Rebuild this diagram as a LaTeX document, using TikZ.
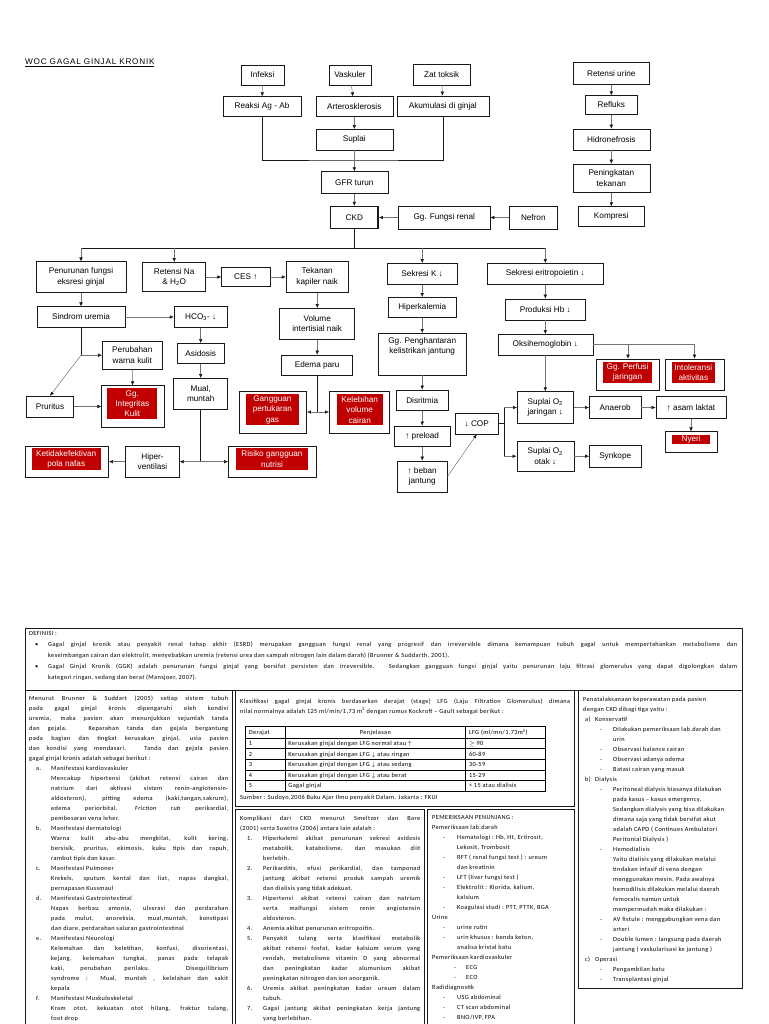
\documentclass[tikz,border=0pt]{standalone}
\usepackage{fontspec}
\setmainfont{Liberation Sans}
\newfontfamily\notefont[LetterSpace=6]{Carlito}
\newfontfamily\titlefont[LetterSpace=9]{Liberation Sans}
\usepackage{array}
\usetikzlibrary{arrows.meta,positioning,calc}
\definecolor{ink}{RGB}{25,25,25}
\definecolor{nanda}{RGB}{192,0,0}
\newcommand{\flowfont}{\fontsize{8.2}{10.4}\selectfont}
\newcommand{\notesize}{\notefont\fontsize{6.3}{10}\selectfont\parindent=0pt\tolerance=10000\pretolerance=-1\hbadness=10000\linepenalty=1000\hyphenpenalty=10000}
% list lines: label at #1, text at #2
\newcommand{\lsitem}[3]{\par\leftskip=#2\relax\noindent\llap{\makebox[\dimexpr#2-#1\relax][l]{#3}}\ignorespaces}
\newcommand{\lsplain}[1]{\par\leftskip=#1\relax\noindent\ignorespaces}

\begin{document}
\begin{tikzpicture}[x=1pt,y=-1pt,
  box/.style={rectangle,draw=ink,line width=0.6pt,fill=white,font=\flowfont,align=center,inner sep=1pt},
  redbox/.style={rectangle,fill=nanda,text=white,font=\flowfont,align=center,inner sep=0.5pt},
  sz/.style 2 args={minimum width=#1pt,minimum height=#2pt},
  arrow/.style={-{Latex[length=4pt,width=3.6pt,color=ink]},draw=black!55,line width=0.5pt},
  bus/.style={draw=ink,line width=0.6pt},
  panel/.style={rectangle,draw=ink,line width=0.8pt,anchor=north west,inner sep=0pt},
  note/.style={anchor=north west,inner sep=0pt,align=justify,font=\notesize}
]
\useasboundingbox (0,0) rectangle (768,1024);
\clip (0,0) rectangle (768,1024);

\node[anchor=west,inner sep=0pt,font=\titlefont\fontsize{8.2}{10}\selectfont] (judul) at (25,62.7) {\underline{WOC GAGAL GINJAL KRONIK}};

% penyebab
\node[box,sz={43}{20}] (infeksi) at (262.5,75) {Infeksi};
\node[box,sz={42}{20}] (vaskuler) at (350,75) {Vaskuler};
\node[box,sz={57}{21}] (zat) at (441.7,74.5) {Zat toksik};
\node[box,sz={76}{21.6}] (urine) at (611.3,73.5) {Retensi urine};
\node[box,sz={78}{20}] (reaksi) at (262,106.7) {Reaksi Ag - Ab};
\node[box,sz={77}{20}] (arterio) at (354.3,106.7) {Arterosklerosis};
\node[box,sz={92}{20.7}] (akum) at (442.8,106.3) {Akumulasi di ginjal};
\node[box,sz={52}{18.6}] (refluks) at (611.3,105) {Refluks};
\node[box,sz={77}{20.7}] (suplai) at (354.3,139.7) {Suplai};
\node[box,sz={77}{21}] (hidro) at (611.3,139.5) {Hidronefrosis};
\node[box,sz={67}{21.7}] (gfr) at (354.3,182.5) {GFR turun};
\node[box,sz={77}{28.3}] (tekanan) at (611.3,178.2) {Peningkatan\\tekanan};
\node[box,sz={47.7}{21.7},line width=1.6pt] (ckd) at (354.3,217.5) {CKD};
\node[box,sz={91.7}{23}] (fungsi) at (444.2,217.5) {Gg. Fungsi renal};
\node[box,sz={48}{22.7}] (nefron) at (533.3,217.5) {Nefron};
\node[box,sz={66}{20}] (kompresi) at (611.3,216.7) {Kompresi};

% akibat
\node[box,sz={90}{30.6}] (penurunan) at (81,277) {Penurunan fungsi\\eksresi ginjal};
\node[box,sz={63}{29.4}] (retna) at (174.2,277) {Retensi Na\\\& H\textsubscript{2}O};
\node[box,sz={48.3}{19.3}] (ces) at (245.8,277) {CES ↑};
\node[box,sz={62.3}{31}] (kapiler) at (317.2,277) {Tekanan\\kapiler naik};
\node[box,sz={69.3}{21}] (sekk) at (422.2,273.8) {Sekresi K ↓};
\node[box,sz={116}{21}] (eritro) at (545.3,273.8) {Sekresi eritropoietin ↓};
\node[box,sz={88.3}{20.6}] (sindrom) at (81,317) {Sindrom uremia};
\node[box,sz={53.3}{20.6}] (hco) at (200.7,317) {HCO\textsubscript{3}- ↓};
\node[box,sz={75}{31}] (volume) at (317.2,323.8) {Volume\\intertisial naik};
\node[box,sz={67.7}{20.4}] (hiperk) at (422.2,307.5) {Hiperkalemia};
\node[box,sz={79.3}{21}] (hb) at (545.3,309.5) {Produksi Hb ↓};
\node[box,sz={60}{28.3}] (perubahan) at (132.3,355.2) {Perubahan\\warna kulit};
\node[box,sz={47.6}{20}] (asidosis) at (200.7,353.3) {Asidosis};
\node[box,sz={71}{20}] (edema) at (317.2,365) {Edema paru};
\node[box,sz={87.7}{41.7}] (hantar) at (422.2,354.2) {Gg. Penghantaran\\kelistrikan jantung\\[7pt]\mbox{}};
\node[box,sz={95}{20.7}] (oksi) at (545.3,344.7) {Oksihemoglobin ↓};
\node[box,sz={62.7}{31.7}] (perfusi) at (628,374.8) {};
\node[redbox,sz={48.4}{21.6}] (perfusi-in) at (627.5,372.5) {Gg. Perfusi\\jaringan};
\node[box,sz={59}{31.7}] (intol) at (694.5,374.8) {};
\node[redbox,sz={43.3}{21.6}] (intol-in) at (693.3,372.5) {Intoleransi\\aktivitas};
\node[box,sz={46.6}{20.7}] (pruritus) at (50,406.5) {Pruritus};
\node[box,sz={62.3}{41.6}] (integ) at (132.8,406.5) {};
\node[redbox,sz={50}{30.7}] (integ-in) at (132.3,403.7) {Gg.\\Integritas\\Kulit};
\node[box,sz={54}{31}] (mual) at (200.7,393.8) {Mual,\\muntah};
\node[box,sz={67.7}{41.6}] (gas) at (272.8,412) {};
\node[redbox,sz={53.3}{31.3}] (gas-in) at (272.4,409.7) {Gangguan\\pertukaran\\gas};
\node[box,sz={60}{41.6}] (lebih) at (359.3,412) {};
\node[redbox,sz={46}{31}] (lebih-in) at (359.7,409.7) {Kelebihan\\volume\\cairan};
\node[box,sz={52.3}{20.7}] (disritmia) at (422.2,400.3) {Disritmia};
\node[box,sz={56}{31.6}] (jaringan) at (545.3,407.5) {Suplai O\textsubscript{2}\\jaringan ↓};
\node[box,sz={51.7}{21.6}] (anaerob) at (615.2,407.5) {Anaerob};
\node[box,sz={70}{21.6}] (laktat) at (691,407.5) {↑ asam laktat};
\node[box,sz={43.3}{20.7}] (cop) at (476.7,423.7) {↓ COP};
\node[box,sz={51.7}{20.6}] (nyeri) at (691,442) {};
\node[redbox,sz={37.7}{9}] (nyeri-in) at (691.2,439.5) {Nyeri};
\node[box,sz={55.7}{20.7}] (preload) at (422.2,436.3) {↑ preload};
\node[box,sz={57}{30.7}] (otak) at (545.3,456.2) {Suplai O\textsubscript{2}\\otak ↓};
\node[box,sz={51.7}{21.7}] (synkope) at (615.2,456.2) {Synkope};
\node[box,sz={50}{31}] (beban) at (422.2,476.5) {↑ beban\\jantung};
\node[box,sz={83.7}{31.3}] (ketidak) at (66.8,461.7) {};
\node[redbox,sz={69}{21.7}] (ketidak-in) at (66.2,459.2) {Ketidakefektivan\\pola nafas};
\node[box,sz={53.6}{31.3}] (hiper) at (152.5,461.7) {Hiper-\\ventilasi};
\node[box,sz={88.4}{31.3}] (risiko) at (272.5,461.7) {};
\node[redbox,sz={72.6}{21.7}] (risiko-in) at (272,459.2) {Risiko gangguan\\nutrisi};

% hubungan atas
\draw[arrow] (infeksi) -- (reaksi);
\draw[arrow] (vaskuler) -- (arterio);
\draw[arrow] (zat) -- (akum);
\draw[arrow] (arterio) -- (suplai);
\coordinate (gfrbus) at (354.3,160);
\draw[bus] (reaksi) |- (gfrbus) -| (akum);
\draw[arrow] (suplai) -- (gfr);
\draw[arrow] (gfr) -- (ckd);
\draw[arrow] (nefron) -- (fungsi);
\draw[arrow] (fungsi) -- (ckd);
\draw[arrow] (urine) -- (refluks);
\draw[arrow] (refluks) -- (hidro);
\draw[arrow] (hidro) -- (tekanan);
\draw[arrow] (tekanan) -- (kompresi);

% cabang CKD
\coordinate (ckdbus) at (354.3,248);
\draw[bus] (ckd) -- (ckdbus);
\draw[bus] (penurunan.north |- ckdbus) -- (eritro.north |- ckdbus);
\draw[arrow] (penurunan.north |- ckdbus) -- (penurunan);
\draw[arrow] (retna.north |- ckdbus) -- (retna);
\draw[arrow] (sekk.north |- ckdbus) -- (sekk);
\draw[arrow] (eritro.north |- ckdbus) -- (eritro);

\draw[arrow] (penurunan) -- (sindrom);
\draw[arrow] (sindrom) -- (hco);
\coordinate (uremjct) at (sindrom.south |- perubahan.west);
\draw[bus] (sindrom) -- (uremjct);
\draw[arrow] (uremjct) -- (perubahan);
\draw[arrow] (uremjct) -- (pruritus.north);
\draw[arrow] (perubahan) -- (integ);
\draw[arrow] (pruritus) -- (integ);
\draw[arrow] (hco) -- (asidosis);
\draw[arrow] (asidosis) -- (mual);
\coordinate (mualjct) at (mual.south |- hiper.east);
\draw[bus] (mual) -- (mualjct);
\draw[arrow] (mualjct) -- (hiper);
\draw[arrow] (mualjct) -- (risiko);
\draw[arrow] (hiper) -- (ketidak);

\draw[arrow] (retna) -- (ces);
\draw[arrow] (ces) -- (kapiler);
\draw[arrow] (kapiler) -- (volume);
\draw[arrow] (volume) -- (edema);
\coordinate (edemajct) at (edema.south |- gas.east);
\draw[bus] (edema) -- (edemajct);
\draw[arrow] (edemajct) -- (gas);
\draw[arrow] (edemajct) -- (lebih);

\draw[arrow] (sekk) -- (hiperk);
\draw[arrow] (hiperk) -- (hantar);
\draw[arrow] (hantar) -- (disritmia);
\draw[arrow] (disritmia) -- (preload);
\draw[arrow] (preload) -- (beban);
\draw[arrow] (beban.east) -- (cop.south);
\coordinate (copjct) at ($(cop.east)+(5.5,0)$);
\draw[bus] (cop) -- (copjct);
\draw[bus] (copjct |- jaringan.west) -- (copjct |- otak.west);
\draw[arrow] (copjct |- jaringan.west) -- (jaringan);
\draw[arrow] (copjct |- otak.west) -- (otak);

\draw[arrow] (eritro) -- (hb);
\draw[arrow] (hb) -- (oksi);
\draw[arrow] (oksi) -- (jaringan);
\draw[arrow] (oksi.east) -| (intol);
\draw[arrow] (oksi.east -| perfusi.north) -- (perfusi);
\draw[arrow] (jaringan) -- (anaerob);
\draw[arrow] (anaerob) -- (laktat);
\draw[arrow] (laktat) -- (nyeri);
\draw[arrow] (otak) -- (synkope);

% kotak teks bawah
\node[panel,minimum width=717pt,minimum height=62pt] (defbox) at (25,628) {};
\node[panel,minimum width=207pt,minimum height=345pt] (gejalabox) at (25,690) {};
\node[panel,minimum width=339pt,minimum height=116pt] (klasbox) at (235,690) {};
\node[panel,minimum width=189pt,minimum height=230pt] (komplbox) at (235,809) {};
\node[panel,minimum width=147pt,minimum height=230pt] (periksabox) at (427,809) {};
\node[panel,minimum width=164pt,minimum height=298pt] (penatabox) at (578,690) {};

\node[note,text width=708pt,font=\notesize\fontsize{6.3}{11}\selectfont] (definisi) at ([shift={(4,3)}]defbox.north west) {DEFINISI :
\lsitem{6pt}{19pt}{•}Gagal ginjal kronik atau penyakit renal tahap akhir (ESRD) merupakan gangguan fungsi renal yang progresif dan irreversible dimana kemampuan tubuh gagal untuk mempertahankan metabolisme dan\linebreak keseimbangan cairan dan elektrolit, menyebabkan uremia (retensi urea dan sampah nitrogen lain dalam darah) (Brunner \& Suddarth, 2001).
\lsitem{6pt}{19pt}{•}Gagal Ginjal Kronik (GGK) adalah penurunan fungsi ginjal yang bersifat persisten dan irreversible. Sedangkan gangguan fungsi ginjal yaitu penurunan laju filtrasi glomerulus yang dapat digolongkan dalam\linebreak kategori ringan, sedang dan berat (Mansjoer, 2007).\par};

\node[note,text width=199pt] (gejala) at ([shift={(4,6)}]gejalabox.north west) {Menurut Brunner \& Suddart (2005) setiap sistem tubuh\linebreak pada gagal ginjal kronis dipengaruhi oleh kondisi\linebreak uremia, maka pasien akan menunjukkan sejumlah tanda\linebreak dan gejala. Keparahan tanda dan gejala bergantung\linebreak pada bagian dan tingkat kerusakan ginjal, usia pasien\linebreak dan kondisi yang mendasari. Tanda dan gejala pasien\linebreak gagal ginjal kronis adalah sebagai berikut :
\lsitem{7pt}{22pt}{a.}Manifestasi kardiovaskuler
\lsplain{22pt}Mencakup hipertensi (akibat retensi cairan dan\linebreak natrium dari aktivasi sistem renin-angiotensin-\linebreak aldosteron), pitting edema (kaki,tangan,sakrum),\linebreak edema periorbital, \textit{Friction rub} perikardial,\linebreak pembesaran vena leher.
\lsitem{7pt}{22pt}{b.}Manifestasi dermatologi
\lsplain{22pt}Warna kulit abu-abu mengkilat, kulit kering,\linebreak bersisik, pruritus, ekimosis, kuku tipis dan rapuh,\linebreak rambut tipis dan kasar.
\lsitem{7pt}{22pt}{c.}Manifestasi Pulmoner
\lsplain{22pt}Krekels, sputum kental dan liat, napas dangkal,\linebreak pernapasan Kussmaul
\lsitem{7pt}{22pt}{d.}Manifestasi Gastrointestinal
\lsplain{22pt}Napas berbau amonia, ulserasi dan perdarahan\linebreak pada mulut, anoreksia, mual,muntah, konstipasi\linebreak dan diare, perdarahan saluran gastrointestinal
\lsitem{7pt}{22pt}{e.}Manifestasi Neurologi
\lsplain{22pt}Kelemahan dan keletihan, konfusi, disorientasi,\linebreak kejang, kelemahan tungkai, panas pada telapak\linebreak kaki, perubahan perilaku. Disequilibrium\linebreak syndrome : Mual, muntah , kelelahan dan sakit\linebreak kepala
\lsitem{7pt}{22pt}{f.}Manifestasi Muskuloskeletal
\lsplain{22pt}Kram otot, kekuatan otot hilang, fraktur tulang,\linebreak foot drop\par};

\node[note,text width=330pt] (klas) at ([shift={(5,8.5)}]klasbox.north west) {Klasifikasi gagal ginjal kronis berdasarkan derajat (stage) LFG (Laju Filtration Glomerulus) dimana\linebreak nilai normalnya adalah 125 ml/min/1,73 m\textsuperscript{2} dengan rumus Kockroft – Gault sebagai berikut :\par};
\node[note] (lfgtab) at ([shift={(10,35.5)}]klasbox.north west) {\setlength{\tabcolsep}{3pt}\setlength{\arrayrulewidth}{0.6pt}\renewcommand{\arraystretch}{1}%
\begin{tabular}{|p{33pt}|p{174pt}|p{73pt}|}\hline
\rule{0pt}{8.5pt}Derajat & \multicolumn{1}{c|}{Penjelasan} & LFG (ml/mn/1.73m\textsuperscript{2})\\\hline
1 & Kerusakan ginjal dengan LFG normal atau $\uparrow$ & $\geq$ 90\\\hline
2 & Kerusakan ginjal dengan LFG $\downarrow$ atau ringan & 60-89\\\hline
3 & Kerusakan ginjal dengan LFG $\downarrow$ atau sedang & 30-59\\\hline
4 & Kerusakan ginjal dengan LFG $\downarrow$ atau berat & 15-29\\\hline
5 & Gagal ginjal & < 15 atau dialisis\\\hline
\end{tabular}};
\node[note] (sumber) at ([shift={(-5,3)}]lfgtab.south west) {Sumber : Sudoyo,2006 Buku Ajar Ilmu penyakit Dalam. Jakarta : FKUI};

\node[note,text width=180pt] (kompl) at ([shift={(5,6.5)}]komplbox.north west) {Komplikasi dari CKD menurut Smeltzer dan Bare\linebreak (2001) serta Suwitra (2006) antara lain adalah :
\lsitem{7pt}{23pt}{1.}Hiperkalemi akibat penurunan sekresi asidosis\linebreak metabolik, katabolisme, dan masukan diit\linebreak berlebih.
\lsitem{7pt}{23pt}{2.}Perikarditis, efusi perikardial, dan tamponad\linebreak jantung akibat retensi produk sampah uremik\linebreak dan dialisis yang tidak adekuat.
\lsitem{7pt}{23pt}{3.}Hipertensi akibat retensi cairan dan natrium\linebreak serta malfungsi sistem renin angiotensin\linebreak aldosteron.
\lsitem{7pt}{23pt}{4.}Anemia akibat penurunan eritropoitin.
\lsitem{7pt}{23pt}{5.}Penyakit tulang serta klasifikasi metabolik\linebreak akibat retensi fosfat, kadar kalsium serum yang\linebreak rendah, metabolisme vitamin D yang abnormal\linebreak dan peningkatan kadar alumunium akibat\linebreak peningkatan nitrogen dan ion anorganik.
\lsitem{7pt}{23pt}{6.}Uremia akibat peningkatan kadar ureum dalam\linebreak tubuh.
\lsitem{7pt}{23pt}{7.}Gagal jantung akibat peningkatan kerja jantung\linebreak yang berlebihan.\par};

\node[note,text width=138pt] (periksa) at ([shift={(5,6.5)}]periksabox.north west) {PEMERIKSAAN PENUNJANG :
\lsplain{0pt}Pemeriksaan lab.darah
\lsitem{11pt}{25pt}{-}Hematologi : Hb, Ht, Eritrosit,\newline Lekosit, Trombosit
\lsitem{11pt}{25pt}{-}RFT ( renal fungsi test ) : ureum\newline dan kreatinin
\lsitem{11pt}{25pt}{-}LFT (liver fungsi test )
\lsitem{11pt}{25pt}{-}Elektrolit : Klorida, kalium,\newline kalsium
\lsitem{11pt}{25pt}{-}Koagulasi studi : PTT, PTTK, BGA
\lsplain{0pt}Urine
\lsitem{11pt}{25pt}{-}urine rutin
\lsitem{11pt}{25pt}{-}urin khusus : benda keton,\newline analisa kristal batu
\lsplain{0pt}Pemeriksaan kardiovaskuler
\lsitem{22pt}{34pt}{-}ECG
\lsitem{22pt}{34pt}{-}ECO
\lsplain{0pt}Radidiagnostik
\lsitem{11pt}{25pt}{-}USG abdominal
\lsitem{11pt}{25pt}{-}CT scan abdominal
\lsitem{11pt}{25pt}{-}BNO/IVP, FPA\par};

\node[note,text width=155pt] (penata) at ([shift={(5,6.5)}]penatabox.north west) {Penatalaksanaan keperawatan pada pasien\newline dengan CKD dibagi tiga yaitu :
\lsitem{2pt}{12pt}{a)}Konservatif
\lsitem{17pt}{30pt}{-}Dilakukan pemeriksaan lab.darah dan\newline urin
\lsitem{17pt}{30pt}{-}Observasi balance cairan
\lsitem{17pt}{30pt}{-}Observasi adanya odema
\lsitem{17pt}{30pt}{-}Batasi cairan yang masuk
\lsitem{2pt}{12pt}{b)}Dialysis
\lsitem{17pt}{30pt}{-}Peritoneal dialysis biasanya dilakukan\newline pada kasus – kasus emergency.\newline Sedangkan dialysis yang bisa dilakukan\newline dimana saja yang tidak bersifat akut\newline adalah CAPD ( Continues Ambulatori\newline Peritonial Dialysis )
\lsitem{17pt}{30pt}{-}Hemodialisis\newline Yaitu dialisis yang dilakukan melalui\newline tindakan infasif di vena dengan\newline menggunakan mesin. Pada awalnya\newline hemodilisis dilakukan melalui daerah\newline femoralis namun untuk\newline mempermudah maka dilakukan :
\lsitem{17pt}{30pt}{-}AV fistule : menggabungkan vena dan\newline arteri
\lsitem{17pt}{30pt}{-}Double lumen : langsung pada daerah\newline jantung ( vaskularisasi ke jantung )
\lsitem{2pt}{12pt}{c)}Operasi
\lsitem{17pt}{30pt}{-}Pengambilan batu
\lsitem{17pt}{30pt}{-}Transplantasi ginjal\par};
\end{tikzpicture}
\end{document}
